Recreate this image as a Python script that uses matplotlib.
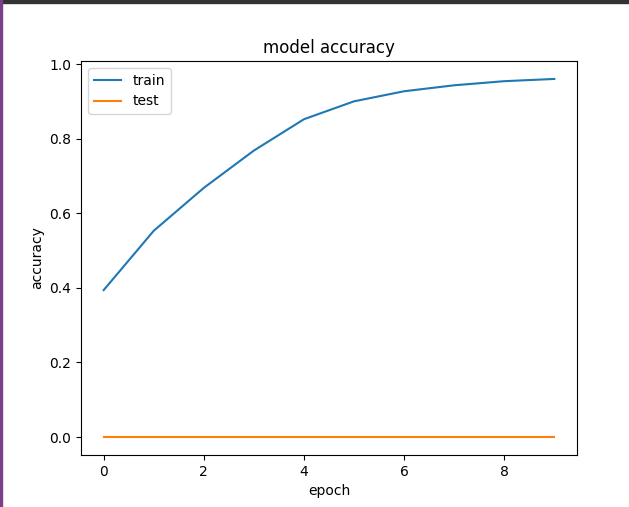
import matplotlib
matplotlib.use("Agg")
import matplotlib.pyplot as plt
from matplotlib.patches import Rectangle

epochs = list(range(10))
train_acc = [0.394, 0.553, 0.668, 0.768, 0.852, 0.900, 0.927, 0.943, 0.954, 0.960]
test_acc = [0.0] * 10

fig = plt.figure(figsize=(6.29, 5.07), dpi=100)
ax = fig.add_axes([0.129, 0.1026, 0.788, 0.777])
ax.plot(epochs, train_acc, label="train")
ax.plot(epochs, test_acc, label="test")
ax.set_title("model accuracy")
ax.set_ylabel("accuracy")
ax.set_xlabel("epoch")
ax.legend(loc="upper left")

fig.patches.append(Rectangle((0, 1 - 3/507), 1, 3/507, transform=fig.transFigure, color="#333333", zorder=10))
fig.patches.append(Rectangle((0, 0), 1.5/629, 1, transform=fig.transFigure, color="#7b3f8a", zorder=10))
fig.savefig("out.png", dpi=100)
